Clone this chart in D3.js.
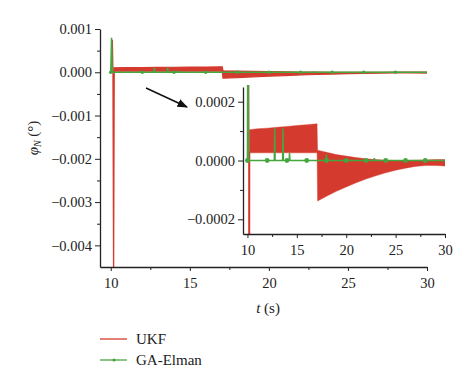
<!DOCTYPE html>
<html>
<head>
<meta charset="utf-8">
<script src="https://cdn.jsdelivr.net/npm/d3@7"></script>
<style>
  body { margin: 0; background: #fff; }
  text { font-family: "Liberation Serif", "DejaVu Serif", serif; fill: #222; }
  .domain, .tick line { stroke: #222; }
</style>
</head>
<body>
<div class="chart"></div>
<script>
// UKF: dense oscillation drawn as envelope band (upper / lower)
const ukfT  = [10.2, 11, 12, 13, 14, 15, 16, 17.05, 17.1, 18, 19, 20, 21, 22, 23, 24, 25, 26, 27, 28, 29, 30];
const ukfHi = [0.000105, 0.000108, 0.00011, 0.000113, 0.000116, 0.000119, 0.000122, 0.000125,
               0.000035, 0.000028, 0.00002, 0.000015, 0.00001, 0.000006, 0.000003, 0.000001, 0, 0, 0.000001, 0.000002, 0.000003, 0.000003];
const ukfLo = [0.000026, 0.000026, 0.000026, 0.000026, 0.000026, 0.000026, 0.000026, 0.000026,
               -0.000138, -0.000122, -0.000105, -0.00009, -0.000076, -0.000063, -0.000052, -0.000042, -0.000033, -0.000026, -0.00002, -0.000017, -0.000017, -0.000019];
// UKF start transient
const ukfSpikeT = [10.06, 10.1, 10.14, 10.18, 10.22];
const ukfSpikeV = [0, 0.00075, 0, -0.0046, 0.00003];

// GA-Elman
const gaT = [10, 10.05, 10.1, 10.15, 12.72, 12.76, 12.8, 13.56, 13.6, 13.64, 14.22, 14.26, 14.3,
             17.96, 18, 18.04, 22.8, 22.85, 22.9, 30];
const gaV = [0, 0.0008, 0, 0, 0, 0.00011, 0, 0, 0.00011, 0, 0, 0.000025, 0,
             0, 0.00002, 0, 0, 0.000008, 0, 0];
const gaMarkT = [10, 12, 14, 16, 18, 20, 22, 24, 26, 28];

const mainYTicks = [0.001, 0, -0.001, -0.002, -0.003, -0.004];
const insetYTicks = [0.0002, 0, -0.0002];
const xTicks = [10, 15, 20, 25, 30];

const RED = "#d43a2d", GREEN = "#45a63f";
const W = 474, H = 387;

const svg = d3.select(".chart").append("svg")
    .attr("width", W).attr("height", H);

function panel(opt) {
    const x = d3.scaleLinear().domain(opt.xd).range([opt.x0, opt.x1]);
    const y = d3.scaleLinear().domain(opt.yd).range([opt.y1, opt.y0]);
    const g = svg.append("g");
    const cid = "clip" + opt.id;
    svg.append("clipPath").attr("id", cid).append("rect")
        .attr("x", opt.x0).attr("y", opt.y0 - 2)
        .attr("width", opt.x1 - opt.x0).attr("height", opt.y1 - opt.y0 + 2);
    const plot = g.append("g").attr("clip-path", `url(#${cid})`);

    // red band
    plot.append("path")
        .datum(ukfT.map((t, i) => [t, ukfHi[i], ukfLo[i]]))
        .attr("fill", RED).attr("stroke", RED).attr("stroke-width", opt.bandStroke)
        .attr("d", d3.area().x(d => x(d[0])).y0(d => y(d[2])).y1(d => y(d[1])));
    plot.append("path")
        .datum(ukfSpikeT.map((t, i) => [t, ukfSpikeV[i]]))
        .attr("fill", "none").attr("stroke", RED).attr("stroke-width", 1.3)
        .attr("d", d3.line().x(d => x(d[0])).y(d => y(d[1])));

    // green
    plot.append("path")
        .datum(gaT.map((t, i) => [t, gaV[i]]))
        .attr("fill", "none").attr("stroke", GREEN).attr("stroke-width", 1.5)
        .attr("d", d3.line().x(d => x(d[0])).y(d => y(d[1])));
    plot.selectAll("circle").data(gaMarkT).join("circle")
        .attr("cx", d => x(d)).attr("cy", y(0)).attr("r", opt.r)
        .attr("fill", GREEN);

    // axes
    const ax = g.append("g").attr("transform", `translate(0,${opt.y1})`)
        .call(d3.axisBottom(x).tickValues(xTicks).tickSize(4).tickSizeOuter(0).tickFormat(d3.format("d")));
    g.append("g").attr("transform", `translate(0,${opt.y1})`)
        .call(d3.axisBottom(x).tickValues(opt.xMinor).tickSize(3).tickSizeOuter(0).tickFormat(""))
        .select(".domain").remove();
    const ay = g.append("g").attr("transform", `translate(${opt.x0},0)`)
        .call(d3.axisLeft(y).tickValues(opt.yTicks).tickSize(5).tickSizeOuter(0).tickFormat(d3.format(opt.fmt)));
    g.append("g").attr("transform", `translate(${opt.x0},0)`)
        .call(d3.axisLeft(y).tickValues(opt.yMinor).tickSize(3).tickSizeOuter(0).tickFormat(""))
        .select(".domain").remove();
    [ax, ay].forEach(a => {
        a.select(".domain").attr("stroke-width", 1.3);
        a.selectAll("text").style("font-size", "14.5px").style("font-family", "Liberation Serif, serif");
    });
    ax.selectAll("text").attr("dy", "0.95em");
    return {x, y};
}

// main plot
panel({
    id: "main", x0: 100, x1: 427, y0: 29, y1: 267,
    xd: [9.32, 30], yd: [-0.0045, 0.001],
    yTicks: mainYTicks, yMinor: [0.0005, -0.0005, -0.0015, -0.0025, -0.0035],
    xMinor: [12.5, 17.5, 22.5, 27.5], fmt: ".3f",
    bandStroke: 1.2, r: 1.8
});

// inset
panel({
    id: "inset", x0: 243, x1: 445, y0: 87, y1: 234,
    xd: [9.55, 30], yd: [-0.00025, 0.00025],
    yTicks: insetYTicks, yMinor: [0.0001, -0.0001],
    xMinor: [12.5, 17.5, 22.5, 27.5], fmt: ".4f",
    bandStroke: 0.4, r: 2.4
});

// arrow pointing to the inset
svg.append("defs").append("marker")
    .attr("id", "arrow").attr("viewBox", "0 0 10 10")
    .attr("refX", 9).attr("refY", 5)
    .attr("markerWidth", 7).attr("markerHeight", 7)
    .attr("orient", "auto")
    .append("path").attr("d", "M0,1 L10,5 L0,9 Z").attr("fill", "#111");
svg.append("line")
    .attr("x1", 146).attr("y1", 88).attr("x2", 187).attr("y2", 107)
    .attr("stroke", "#111").attr("stroke-width", 1.5)
    .attr("marker-end", "url(#arrow)");

// axis titles
const xt = svg.append("text").attr("x", 268).attr("y", 313)
    .attr("text-anchor", "middle").style("font-size", "15px");
xt.append("tspan").style("font-style", "italic").text("t");
xt.append("tspan").text(" (s)");

const yt = svg.append("text")
    .attr("transform", "translate(38,138) rotate(-90)")
    .attr("text-anchor", "middle").style("font-size", "15px");
yt.append("tspan").style("font-style", "italic").text("φ");
yt.append("tspan").style("font-style", "italic").style("font-size", "10px").attr("dy", 3).text("N");
yt.append("tspan").attr("dy", -3).text(" (°)");

// legend
const legend = [["UKF", RED, false], ["GA-Elman", GREEN, true]];
legend.forEach((d, i) => {
    const ly = 339 + i * 21;
    svg.append("line").attr("x1", 100).attr("x2", 127).attr("y1", ly).attr("y2", ly)
        .attr("stroke", d[1]).attr("stroke-width", 1.3);
    if (d[2]) svg.append("circle").attr("cx", 114).attr("cy", ly).attr("r", 1.6).attr("fill", d[1]);
    svg.append("text").attr("x", 136).attr("y", ly + 5).style("font-size", "15px").text(d[0]);
});
</script>
</body>
</html>
